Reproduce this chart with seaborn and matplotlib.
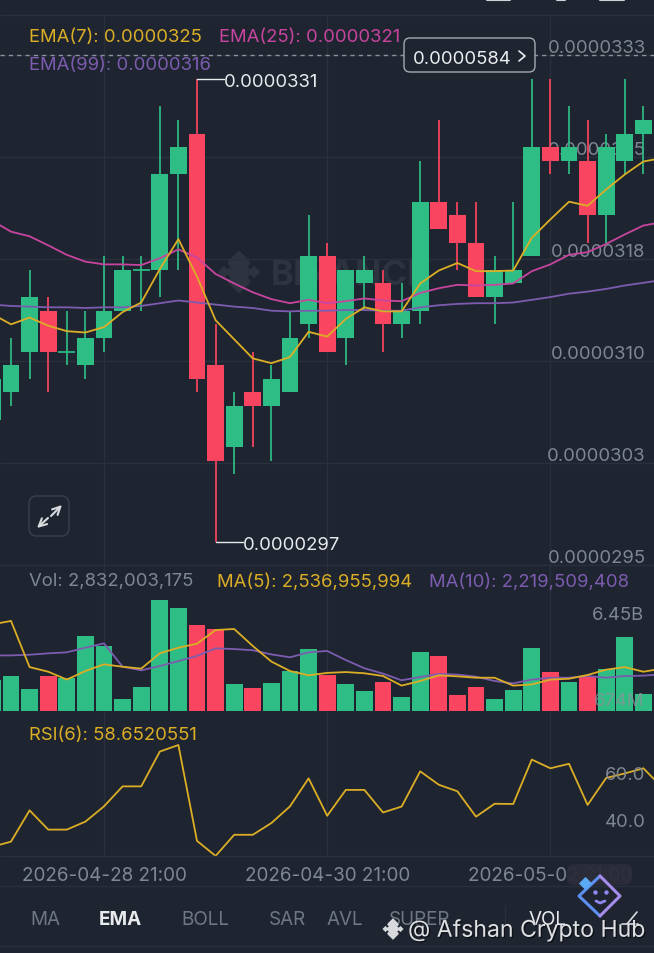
import numpy as np
import matplotlib
matplotlib.use("Agg")
import matplotlib.pyplot as plt
import matplotlib.patheffects as pe
from matplotlib.patches import FancyBboxPatch
from matplotlib.transforms import blended_transform_factory
import seaborn as sns

# prices are in units of 0.0000001
opens = [306, 308, 311, 314, 311, 310, 312, 314, 317, 317, 324, 327, 310, 304, 308, 307, 308, 313, 318,
         312, 316, 316, 313, 314, 322, 321, 319, 315, 316, 318, 326, 325, 325, 321, 325, 327, 328]
closes = [309, 310, 315, 311, 311, 312, 314, 317, 317, 324, 326, 309, 303, 307, 307, 309, 312, 318, 311,
          317, 317, 313, 314, 322, 320, 319, 315, 317, 317, 326, 325, 326, 321, 326, 327, 328, 326]
highs = [309, 312, 317, 315, 314, 314, 318, 318, 318, 329, 328, 331, 313, 308, 311, 310, 314, 321, 319,
         317, 318, 317, 316, 325, 328, 322, 322, 318, 322, 331, 331, 329, 328, 327, 331, 329, 329]
lows = [306, 307, 309, 308, 310, 309, 311, 314, 314, 315, 317, 308, 297, 302, 304, 303, 308, 312, 311,
        310, 314, 311, 312, 313, 320, 317, 315, 313, 316, 318, 324, 324, 319, 319, 324, 324, 325]
ema7 = [313.75, 313.0, 313.5, 312.9, 312.5, 312.4, 312.8, 313.9, 314.6, 317.05, 319.25, 316.5, 313.3,
        311.9, 310.5, 310.15, 310.6, 312.45, 312.1, 313.4, 314.25, 313.95, 313.95, 316.0, 316.95, 317.5,
        316.9, 316.9, 316.95, 319.35, 320.7, 322.0, 321.7, 322.9, 324.0, 324.95, 325.2]
ema25 = [320.6, 319.8, 319.46, 318.8, 318.1, 317.6, 317.4, 317.4, 317.35, 317.85, 318.5, 317.9, 316.7,
         316.0, 315.35, 314.85, 314.55, 314.8, 314.55, 314.7, 314.9, 314.75, 314.7, 315.3, 315.65, 315.9,
         315.85, 315.9, 316.0, 316.9, 317.4, 318.1, 318.3, 318.9, 319.6, 320.25, 320.5]
ema99 = [314.45, 314.35, 314.3, 314.25, 314.25, 314.2, 314.25, 314.25, 314.35, 314.55, 314.75, 314.6,
         314.45, 314.3, 314.2, 314.0, 313.95, 314.0, 314.0, 314.05, 314.05, 314.0, 314.0, 314.25, 314.4,
         314.5, 314.55, 314.55, 314.6, 314.8, 315.0, 315.25, 315.4, 315.6, 315.85, 316.05, 316.25]
# volume in billions
volume = [1.79, 2.02, 1.30, 2.02, 1.90, 4.39, 3.79, 0.68, 1.40, 6.45, 6.02, 5.01, 4.76, 1.55, 1.36, 1.61,
          2.33, 3.61, 2.10, 1.59, 1.15, 1.71, 0.80, 3.46, 3.19, 0.95, 1.40, 0.68, 1.20, 3.65, 2.25, 1.69,
          2.02, 2.43, 4.29, 0.99, 2.80]
vol_ma5 = [5.05, 5.25, 2.56, 2.29, 1.83, 2.33, 2.72, 2.58, 2.47, 3.36, 3.69, 3.92, 4.72, 4.78, 3.79, 2.88,
           2.33, 2.08, 2.22, 2.27, 2.20, 2.04, 1.48, 1.75, 2.08, 2.02, 1.94, 1.94, 1.48, 1.55, 1.83, 1.88,
           2.10, 2.41, 2.56, 2.29, 2.47]
vol_ma10 = [3.24, 3.24, 3.28, 3.36, 3.42, 3.69, 3.94, 2.58, 2.37, 2.62, 2.91, 3.21, 3.65, 3.61, 3.54, 3.30,
            3.13, 3.42, 3.50, 2.97, 2.49, 2.18, 1.79, 1.98, 2.16, 2.12, 2.00, 1.75, 1.61, 1.83, 1.94, 1.94,
            2.04, 1.94, 2.04, 2.06, 2.14]
rsi6 = [28.4, 30.6, 43.9, 35.7, 35.7, 39.1, 45.6, 54.1, 54.1, 68.9, 71.7, 30.9, 24.5, 33.5, 33.5, 38.5,
        45.6, 57.5, 41.6, 52.6, 52.6, 43.0, 45.5, 60.5, 54.8, 52.0, 41.2, 46.7, 46.6, 65.5, 61.8, 63.7,
        46.2, 57.7, 59.6, 61.8, 53.7]

price_ticks = [295.34, 302.83, 310.31, 317.79, 325.28, 332.76]
price_labels = ["0.0000295", "0.0000303", "0.0000310", "0.0000318", "0.0000325", "0.0000333"]
rsi_ticks = [40.0, 60.0]
time_ticks = [6, 18, 30]
time_labels = ["2026-04-28 21:00", "2026-04-30 21:00", "2026-05-02 21:00"]
tabs = ["MA", "EMA", "BOLL", "SAR", "AVL", "SUPER", "VOL"]
tab_x = [45, 120, 205, 287, 345, 420, 548]

BG = "#1e2530"
GRID = "#2a303b"
GREEN = "#2ebd85"
RED = "#f9455f"
YELLOW = "#dcae26"
PINK = "#c8459f"
PURPLE = "#7d5cb0"
GRAY = "#7f8793"
FS = 13.3
LW = 1.3

W, H = 654, 954
sns.set_theme(style="dark", rc={"axes.facecolor": BG, "figure.facecolor": BG})
plt.rcParams["font.family"] = ["Inter", "DejaVu Sans"]

fig = plt.figure(figsize=(W / 100, H / 100), dpi=100)

# back layer for the watermark, under the candles
back = fig.add_axes([0, 0, 1, 1], zorder=-1)
back.set_xlim(0, W)
back.set_ylim(H, 0)
back.axis("off")


def panel(top, bottom, ymin, ymax):
    ax = fig.add_axes([0, 1 - bottom / H, 1, (bottom - top) / H])
    ax.set_xlim(0.4086, 35.57)
    ax.set_ylim(ymin, ymax)
    ax.patch.set_alpha(0)
    ax.tick_params(left=False, bottom=False, labelleft=False, labelbottom=False)
    for s in ax.spines.values():
        s.set_visible(False)
    for t in time_ticks:
        ax.axvline(t, color=GRID, lw=1, zorder=0)
    return ax


ax_price = panel(16, 566, 295.34, 335.7)
ax_vol = panel(566, 712, 0, 8.51)
ax_rsi = panel(712, 857, 24.47, 86.17)

idx = np.arange(len(opens))
o = np.array(opens)
c = np.array(closes)
is_up = c >= o
colors = np.where(is_up, GREEN, RED)

# candles
ax_price.vlines(idx, lows, highs, colors=colors, lw=1.25, zorder=2)
ax_price.bar(idx, np.abs(c - o), bottom=np.minimum(o, c), width=0.9, color=colors, lw=0, zorder=3)
doji = o == c
ax_price.hlines(o[doji], idx[doji] - 0.45, idx[doji] + 0.45, colors=colors[doji], lw=1.25, zorder=3)

# moving averages
for vals, col in [(ema99, PURPLE), (ema25, PINK), (ema7, YELLOW)]:
    sns.lineplot(x=idx, y=vals, ax=ax_price, color=col, lw=LW, zorder=4, errorbar=None, legend=False)

# price grid and right labels, these sit under the candles
tr = blended_transform_factory(ax_price.transAxes, ax_price.transData)
for p, lab in zip(price_ticks, price_labels):
    ax_price.axhline(p, color=GRID, lw=1, zorder=0)
    ax_price.annotate(lab, (1, p), xycoords=tr, xytext=(-6, -0.5), textcoords="offset points",
                      ha="right", va="bottom", color=GRAY, fontsize=FS, zorder=1)

# high and low marks
hi = int(np.argmax(highs))
lo = int(np.argmin(lows))
for i, val in [(hi, highs[hi]), (lo, lows[lo])]:
    ax_price.plot([i, i + 1.47], [val, val], color="#e8eaed", lw=1, zorder=5)
    ax_price.text(i + 1.47, val, f"{val * 1e-7:.7f}", color="#e8eaed", fontsize=FS, va="center_baseline", zorder=5)

# volume
sns.barplot(x=idx, y=volume, hue=colors, palette={GREEN: GREEN, RED: RED}, native_scale=True, width=0.9,
            dodge=False, legend=False, saturation=1, ax=ax_vol, zorder=2, linewidth=0)
for vals, col in [(vol_ma10, PURPLE), (vol_ma5, YELLOW)]:
    sns.lineplot(x=idx, y=vals, ax=ax_vol, color=col, lw=LW, zorder=4, errorbar=None, legend=False)
ax_vol.set_xlim(0.4086, 35.57)
ax_vol.set_ylim(0, 8.51)
ax_vol.set_xlabel("")
ax_vol.set_ylabel("")
ax_vol.tick_params(left=False, bottom=False, labelleft=False, labelbottom=False)

# rsi
sns.lineplot(x=idx, y=rsi6, ax=ax_rsi, color=YELLOW, lw=LW, zorder=4, errorbar=None, legend=False)
ax_rsi.set_xlim(0.4086, 35.57)
ax_rsi.set_ylim(24.47, 86.17)
ax_rsi.set_xticks(time_ticks, time_labels)
ax_rsi.tick_params(bottom=False, labelbottom=True, labelsize=13.6, labelcolor=GRAY, pad=1.5)
tr = blended_transform_factory(ax_rsi.transAxes, ax_rsi.transData)
for r in rsi_ticks:
    ax_rsi.text(0.987, r, f"{r:.1f}", transform=tr, ha="right", va="center_baseline", color=GRAY,
                fontsize=FS, zorder=5)

# overlay in pixel coordinates for the app furniture
ov = fig.add_axes([0, 0, 1, 1], zorder=10)
ov.set_xlim(0, W)
ov.set_ylim(H, 0)
ov.axis("off")

for y in [16, 566, 857, 887, 947]:
    ov.plot([0, W], [y, y], color=GRID, lw=1)
for x0, x1 in [(487, 510), (557, 565), (600, 624)]:
    ov.plot([x0, x1], [0.5, 0.5], color="#cfd3d8", lw=1.5)

ov.plot([0, W], [56, 56], color="#8d929a", lw=1, ls=(0, (3, 3)), zorder=1)
ov.add_patch(FancyBboxPatch((407, 42), 125, 28, boxstyle="round,pad=3,rounding_size=6", fc=BG, ec="#a4a9b0",
                            lw=1, zorder=3))
ov.text(413, 57, "0.0000584", color="#eceef0", fontsize=FS, va="center_baseline", zorder=4)
ov.plot([519, 525, 519], [52, 57, 62], color="#eceef0", lw=1.2, zorder=4)

head = [
    (29, 35, "EMA(7): 0.0000325", YELLOW),
    (219, 35, "EMA(25): 0.0000321", PINK),
    (29, 64, "EMA(99): 0.0000316", PURPLE),
    (29, 580, "Vol: 2,832,003,175", GRAY),
    (217, 580, "MA(5): 2,536,955,994", YELLOW),
    (429, 580, "MA(10): 2,219,509,408", PURPLE),
    (29, 734, "RSI(6): 58.6520551", YELLOW),
]
for x, y, s, col in head:
    ov.text(x, y, s, color=col, fontsize=FS, va="center_baseline")
ov.text(644, 614, "6.45B", color=GRAY, fontsize=FS, va="center_baseline", ha="right")
ov.text(644, 700, "674M", color="#8a9499", fontsize=FS, va="center_baseline", ha="right", alpha=0.75)


def logo(ax, cx, cy, r, col, zorder=1):
    ax.scatter([cx, cx - r, cx + r], [cy, cy, cy], marker="D", s=[(r * 0.95) ** 2, (r * 0.42) ** 2, (r * 0.42) ** 2],
               color=col, lw=0, zorder=zorder)
    for sgn in (-1, 1):
        ax.plot([cx - 0.55 * r, cx, cx + 0.55 * r], [cy + sgn * 0.6 * r, cy + sgn * 1.15 * r, cy + sgn * 0.6 * r],
                color=col, lw=r * 0.3, solid_joinstyle="miter", zorder=zorder)


logo(back, 239, 273, 15, "#2d343f")
back.text(271, 273, "BINANCE", color="#2d343f", fontsize=25, fontweight="bold", va="center_baseline")

# expand button
ov.add_patch(FancyBboxPatch((33, 501), 32, 32, boxstyle="round,pad=4,rounding_size=8", fc="none", ec="#353b47", lw=1.2))
arrow = dict(arrowstyle="->", color="#d8dadd", lw=1.5, mutation_scale=14, shrinkA=0, shrinkB=0)
ov.annotate("", xy=(62, 506), xytext=(51, 517), arrowprops=arrow)
ov.annotate("", xy=(37, 529), xytext=(48, 519), arrowprops=arrow)

# bottom tabs
for name, x in zip(tabs, tab_x):
    active = name in ("EMA", "VOL")
    ov.text(x, 918, name, color="#e8eaed" if active else "#6f7782", fontsize=13.6, ha="center",
            va="center_baseline", fontweight="bold" if name == "EMA" else "normal")
ov.plot([505, 505], [906, 930], color=GRID, lw=1)
ov.plot([622, 638], [925, 925], color="#d8dadd", lw=1.2)
ov.plot([627, 637], [925, 913], color="#d8dadd", lw=1.2)

# ai assistant badge over the time label
ov.add_patch(FancyBboxPatch((571, 869), 57, 13, boxstyle="round,pad=4,rounding_size=7", fc="#2a2c3a", ec="none", alpha=0.95))
ov.plot([600, 579, 600], [877, 897, 917], color="#5c8ff0", lw=2.2, solid_joinstyle="round")
ov.plot([600, 620, 600], [877, 897, 917], color="#a58bea", lw=2.2, solid_joinstyle="round")
ov.scatter([595, 606], [893, 893], s=10, color="#8f87ee", lw=0)
ov.plot([596, 600, 605], [902, 904, 902], color="#8f87ee", lw=2)
ov.scatter([585], [884], marker="D", s=45, color="#5aa9f5", lw=0, zorder=6)

# watermark
logo(ov, 393, 930, 7.5, "#d8dadd", zorder=6)
ov.text(408, 929, "@ Afshan Crypto Hub", color="#dfe1e4", fontsize=16.6, va="center_baseline", zorder=6,
        path_effects=[pe.withSimplePatchShadow(offset=(1, -1), shadow_rgbFace="#000000", alpha=0.5)])

fig.savefig("out.png", dpi=100, facecolor=BG)
